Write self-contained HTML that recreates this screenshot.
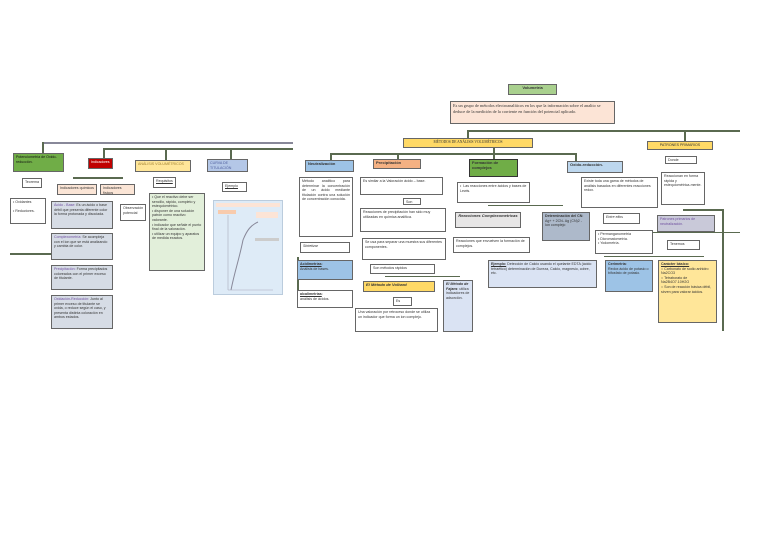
<!DOCTYPE html>
<html><head><meta charset="utf-8"><style>
body{margin:0;width:768px;height:543px;background:#fff;position:relative;overflow:hidden;font-family:"Liberation Sans",sans-serif}
.b{position:absolute;box-sizing:border-box;border:1px solid #666;font-size:3.6px;line-height:4.6px;padding:1px 2px;color:#333;overflow:hidden;background:#fff}
.l{position:absolute;background:#5a6a50}
.t{font-weight:bold;font-size:4px}
</style></head><body>
<!-- lines -->
<div class="l" style="left:467px;top:130px;width:273px;height:2px"></div>
<div class="l" style="left:467px;top:130px;width:2px;height:9px"></div>
<div class="l" style="left:684px;top:130px;width:2px;height:11px"></div>
<div class="l" style="left:330px;top:153px;width:246px;height:2px"></div>
<div class="l" style="left:330px;top:153px;width:2px;height:7px"></div>
<div class="l" style="left:397px;top:153px;width:2px;height:6px"></div>
<div class="l" style="left:493px;top:148px;width:2px;height:11px"></div>
<div class="l" style="left:575px;top:153px;width:2px;height:8px"></div>
<div class="l" style="left:42px;top:142px;width:251px;height:2px;background:#889"></div>
<div class="l" style="left:42px;top:142px;width:2px;height:11px"></div>
<div class="l" style="left:103px;top:148px;width:190px;height:2px"></div>
<div class="l" style="left:103px;top:148px;width:2px;height:10px"></div>
<div class="l" style="left:165px;top:148px;width:2px;height:12px"></div>
<div class="l" style="left:230px;top:148px;width:2px;height:11px"></div>
<div class="l" style="left:73px;top:177px;width:50px;height:2px"></div>
<div class="l" style="left:10px;top:253px;width:65px;height:2px"></div>
<div class="l" style="left:722px;top:209px;width:2px;height:122px"></div>
<div class="l" style="left:683px;top:209px;width:40px;height:2px"></div>
<div class="l" style="left:488px;top:205px;width:75px;height:1px"></div>
<div class="l" style="left:385px;top:276px;width:75px;height:1px"></div>
<div class="l" style="left:650px;top:232px;width:90px;height:1px"></div>
<div class="l" style="left:604px;top:256px;width:100px;height:1px"></div>
<div class="l" style="left:297px;top:257px;width:2px;height:40px"></div>

<!-- right -->
<div class="b t" style="left:508px;top:84px;width:49px;height:11px;background:#a9d08e;text-align:center">Volumetría</div>
<div class="b" style="left:450px;top:101px;width:165px;height:23px;background:#fce4d6;font-size:4.3px;line-height:5.6px;font-family:'Liberation Serif',serif">Es un grupo de métodos electroanalíticos en los que la información sobre el analito se deduce de la medición de la corriente en función del potencial aplicado.</div>
<div class="b" style="left:403px;top:138px;width:130px;height:10px;background:#ffd966;text-align:center;font-family:'Liberation Serif',serif">MÉTODOS DE ANÁLISIS VOLUMÉTRICOS</div>
<div class="b" style="left:647px;top:141px;width:66px;height:9px;background:#ffd966;text-align:center">PATRONES PRIMARIOS</div>
<div class="b t" style="left:305px;top:160px;width:49px;height:12px;background:#9dc3e6">Neutralización</div>
<div class="b t" style="left:373px;top:159px;width:48px;height:10px;background:#f4b183">Precipitación</div>
<div class="b t" style="left:469px;top:159px;width:49px;height:18px;background:#70ad47;border:1.5px solid #333">Formación de complejos</div>
<div class="b t" style="left:567px;top:161px;width:56px;height:12px;background:#bdd7ee">Oxido-reducción.</div>
<div class="b" style="left:665px;top:156px;width:32px;height:8px">Donde</div>
<div class="b" style="left:299px;top:177px;width:54px;height:60px;text-align:justify">Método analítico para determinar la concentración de un ácido mediante titulación contra una solución de concentración conocida.</div>
<div class="b" style="left:300px;top:242px;width:50px;height:11px;font-style:italic">Sintetizar</div>
<div class="b" style="left:297px;top:260px;width:56px;height:20px;background:#9dc3e6"><b style="text-decoration:underline">Acidimetrías</b>:<br>Análisis de bases.</div>
<div class="b" style="left:297px;top:290px;width:56px;height:18px"><b style="text-decoration:underline">alcalimetrías</b>:<br>análisis de ácidos.</div>
<div class="b" style="left:360px;top:177px;width:83px;height:18px">Es similar a la Valoración ácido – base.</div>
<div class="b" style="left:403px;top:198px;width:18px;height:7px">Son</div>
<div class="b" style="left:360px;top:208px;width:86px;height:24px">Reacciones de precipitación han sido muy utilizadas en química analítica.</div>
<div class="b" style="left:362px;top:238px;width:84px;height:22px">Se usa para separar una muestra sus diferentes componentes.</div>
<div class="b" style="left:370px;top:264px;width:65px;height:10px">Son métodos rápidos</div>
<div class="b t" style="left:363px;top:281px;width:72px;height:11px;background:#ffd966;font-style:italic">El Método de Volhard</div>
<div class="b" style="left:393px;top:297px;width:19px;height:9px">Es</div>
<div class="b" style="left:355px;top:308px;width:83px;height:24px">Una valoración por retroceso donde se utiliza un indicador que forma un ion complejo.</div>
<div class="b" style="left:443px;top:280px;width:30px;height:52px;background:#dae3f3"><b><i>El Método de Fajans</i></b>: utiliza indicadores de adsorción.</div>
<div class="b" style="left:457px;top:182px;width:73px;height:21px">• &nbsp;Las reacciones entre ácidos y bases de Lewis.</div>
<div class="b t" style="left:455px;top:212px;width:66px;height:16px;background:#e7e6e6;text-align:center;font-style:italic">Reacciones Complexometricas</div>
<div class="b" style="left:453px;top:237px;width:77px;height:16px">Reacciones que envuelven la formación de complejos.</div>
<div class="b" style="left:542px;top:212px;width:48px;height:29px;background:#adb9ca"><b>Determinación del CN</b>: Ag+ + 2CN- Ag (CN)2 - Ion complejo</div>
<div class="b" style="left:488px;top:260px;width:109px;height:28px;background:#dae3f3"><b style="text-decoration:underline">Ejemplo:</b> Detección de Calcio usando el quelante EDTA (ácido tetraético) determinación de Dureza, Calcio, magnesio, cobre, etc.</div>
<div class="b" style="left:581px;top:177px;width:77px;height:31px">Existe toda una gama de métodos de análisis basados en diferentes reacciones redox.</div>
<div class="b" style="left:603px;top:213px;width:37px;height:11px;font-style:italic">Entre ellos</div>
<div class="b" style="left:595px;top:230px;width:58px;height:24px">• Permanganometría<br>• Dicromatometría.<br>• Yodometría.</div>
<div class="b" style="left:605px;top:260px;width:48px;height:32px;background:#9dc3e6"><b>Cerimetría</b>:<br>Redox ácido de potasio o bifosfato de potasio.</div>
<div class="b" style="left:661px;top:172px;width:44px;height:33px">Reaccionan en forma rápida y estequiométrica-mente.</div>
<div class="b" style="left:657px;top:215px;width:58px;height:17px;background:#c9c9d9;color:#7050a0">Patrones primarios de neutralización.</div>
<div class="b" style="left:667px;top:240px;width:33px;height:10px">Tenemos</div>
<div class="b" style="left:658px;top:260px;width:59px;height:63px;background:#ffe699"><b style="text-decoration:underline">Carácter básico:</b><br>○ Carbonato de sodio anhidro Na2CO3<br>○ Tetraborato de Na2B4O7.10H2O<br>○ Son de reacción básica débil, sirven para valorar ácidos.</div>

<!-- left -->
<div class="b" style="left:13px;top:153px;width:51px;height:19px;background:#70ad47;color:#111">Potenciometría de Oxido-reducción.</div>
<div class="b" style="left:88px;top:158px;width:25px;height:11px;background:#c00000;color:#fff">Indicadores</div>
<div class="b" style="left:135px;top:160px;width:56px;height:12px;background:#ffe699;color:#a08030">ANÁLISIS VOLUMÉTRICOS</div>
<div class="b" style="left:207px;top:159px;width:41px;height:13px;background:#b4c7e7;color:#5060a0">CURVA DE TITULACIÓN</div>
<div class="b" style="left:22px;top:178px;width:20px;height:10px">Teorema</div>
<div class="b" style="left:10px;top:198px;width:36px;height:26px">• Oxidantes<br><br>• Reductores.</div>
<div class="b" style="left:57px;top:184px;width:40px;height:11px;background:#fbe5d6">Indicadores químicos</div>
<div class="b" style="left:100px;top:184px;width:35px;height:11px;background:#fbe5d6">Indicadores físicos</div>
<div class="b" style="left:120px;top:204px;width:26px;height:17px">Observación potencial</div>
<div class="b" style="left:153px;top:177px;width:23px;height:11px;text-decoration:underline">Requisitos</div>
<div class="b" style="left:149px;top:193px;width:56px;height:78px;background:#e2efda">• Que el reactivo debe ser sencillo, rápido, completo y estequiométrico.<br>• disponer de una solución patrón como reactivo valorante.<br>• indicador que señale el punto final de la valoración.<br>• utilizar un equipo y aparatos de medida exactos.</div>
<div class="b" style="left:222px;top:182px;width:25px;height:10px;text-decoration:underline">Ejemplo</div>
<div class="b" style="left:213px;top:200px;width:70px;height:95px;background:#deebf7;border-color:#bcd"></div>
<svg style="position:absolute;left:213px;top:200px" width="70" height="95"><rect x="3" y="3" width="64" height="4" fill="#fce4d6"/><rect x="5" y="10" width="18" height="4" fill="#f8cbad"/><path d="M18 90 C22 70 26 60 30 40 C34 30 38 25 45 22" stroke="#889" fill="none" stroke-width="1"/><line x1="15" y1="15" x2="15" y2="90" stroke="#aab" stroke-width=".6"/><line x1="15" y1="90" x2="60" y2="90" stroke="#aab" stroke-width=".6"/><rect x="43" y="12" width="22" height="6" fill="#fce4d6"/><rect x="42" y="38" width="24" height="3" fill="#ccc"/></svg>
<div class="b" style="left:51px;top:201px;width:62px;height:28px;background:#d6dce5"><span style="color:#7050a0">Ácido - Base:</span> Es un ácido o base débil que presenta diferente color la forma protonada y disociada.</div>
<div class="b" style="left:51px;top:233px;width:62px;height:27px;background:#d6dce5"><span style="color:#7050a0">Complexometría:</span> Se acompleja con el ion que se está analizando y cambia de color.</div>
<div class="b" style="left:51px;top:265px;width:62px;height:25px;background:#d6dce5"><span style="color:#7050a0">Precipitación:</span> Forma precipitados coloreados con el primer exceso de titulante.</div>
<div class="b" style="left:51px;top:295px;width:62px;height:34px;background:#d6dce5"><span style="color:#7050a0">Oxidación-Reducción:</span> Junto al primer exceso de titulante se oxida, o reduce según el caso, y presenta distinta coloración en ambos estados.</div>
</body></html>
